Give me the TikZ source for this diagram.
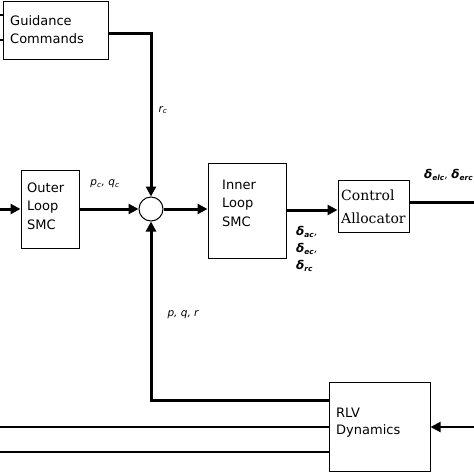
\documentclass[tikz,border=0pt]{standalone}
\usepackage{fontspec}
\setmainfont{DejaVu Sans}
\newfontfamily\serifbox{DejaVu Serif}
\usetikzlibrary{arrows.meta,calc}
\newcommand\dsub[2]{{\fontsize{12}{14}\selectfont\bfseries\itshape #1}\textsubscript{\bfseries\itshape #2}}
\begin{document}
\begin{tikzpicture}[x=1pt,y=-1pt,
  blk/.style={draw,line width=1pt,rectangle,inner sep=0pt},
  txt/.style={font=\fontsize{13}{15}\selectfont,inner sep=0pt,anchor=west},
  lbl/.style={font=\fontsize{10.5}{12}\selectfont\itshape,inner sep=0pt},
  sig/.style={line width=3pt},
  sigthin/.style={line width=2pt},
  arr/.style={-{Triangle[length=10pt,width=10pt]}},
]
\useasboundingbox (0,0) rectangle (474,474);
% boxes
\node[blk,minimum width=105pt,minimum height=58pt] (guid) at (55.5,30) {};
\node[blk,minimum width=58pt,minimum height=78pt] (outer) at (50,209) {};
\node[blk,circle,minimum size=24pt] (sum) at (151,209) {};
\node[blk,minimum width=78pt,minimum height=95pt] (inner) at (247,211) {};
\node[blk,minimum width=71pt,minimum height=52pt] (alloc) at (373.5,206) {};
\node[blk,minimum width=101pt,minimum height=89pt] (rlv) at (379.5,426.5) {};
% texts
\node[txt] (tg1) at (10,21) {Guidance};
\node[txt] (tg2) at (10,39) {Commands};
\node[txt] (to1) at (27,188) {Outer};
\node[txt] (to2) at (27,207) {Loop};
\node[txt] (to3) at (27,225) {SMC};
\node[txt] (ti1) at (222,185) {Inner};
\node[txt] (ti2) at (222,204) {Loop};
\node[txt] (ti3) at (222,222) {SMC};
\node[txt,font=\fontsize{14}{16}\selectfont\serifbox] (ta1) at (341,195) {Control};
\node[txt,font=\fontsize{14}{16}\selectfont\serifbox] (ta2) at (341,218) {Allocator};
\node[txt] (tr1) at (336,413) {RLV};
\node[txt] (tr2) at (336,431) {Dynamics};
% labels
\node[lbl] (lpq) at (105,184) {p\textsubscript{c}, q\textsubscript{c}};
\node[lbl] (lrc) at (163,110) {r\textsubscript{c}};
\node[lbl] (lpqr) at (183,315) {p, q, r};
\node[lbl,anchor=west] (ld1) at (296,232) {\dsub{δ}{ac},};
\node[lbl,anchor=west] (ld2) at (296,249) {\dsub{δ}{ec},};
\node[lbl,anchor=west] (ld3) at (296,266) {\dsub{δ}{rc}};
\node[lbl,anchor=west] (ld4) at (424,175) {\dsub{δ}{elc}, \dsub{δ}{erc}};
% coordinates
\coordinate (in0) at (0,209);
\coordinate (gin1) at (0,15);
\coordinate (gin2) at (0,40);
\coordinate (aout) at (474,202);
\coordinate (rin) at (474,427);
\coordinate (rl1) at (0,427);
\coordinate (rl2) at (0,452);
% connectors
\draw[sigthin] (gin1) -- (gin1 -| guid.west);
\draw[sigthin] (gin2) -- (gin2 -| guid.west);
\draw[sig,arr] (in0) -- (outer.west);
\draw[sig,arr] (outer.east) -- (sum.west);
\draw[sig,arr] ([yshift=-3pt]guid.east) -| (sum.north);
\draw[sig,arr] (sum.east) -- (sum.east -| inner.west);
\draw[sig,arr] (inner.east |- 0,210) -- (alloc.west |- 0,210);
\draw[sig] (alloc.east |- aout) -- (aout);
\draw[sig,arr] (rlv.west |- 0,400) -| (sum.south);
\draw[sigthin,arr] (rin) -- (rin -| rlv.east);
\draw[sigthin] (rl1 -| rlv.west) -- (rl1);
\draw[sigthin] (rl2 -| rlv.west) -- (rl2);
\end{tikzpicture}
\end{document}
